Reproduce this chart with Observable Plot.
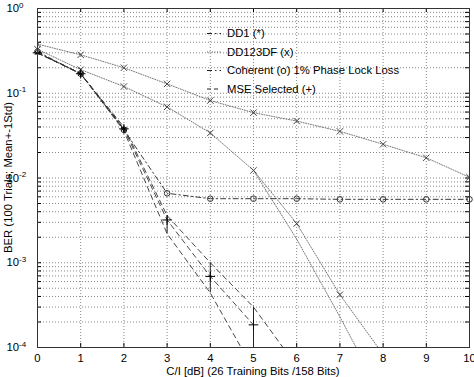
<!DOCTYPE html>
<html>
<head>
<meta charset="utf-8">
<script src="https://cdn.jsdelivr.net/npm/d3@7"></script>
<script src="https://cdn.jsdelivr.net/npm/@observablehq/plot@0.6"></script>
<style>
  html, body { margin: 0; padding: 0; background: #fff; }
  svg { font-family: "Liberation Sans", Arial, Helvetica, sans-serif; }
</style>
</head>
<body>
<div id="chart"></div>
<script>
// ---- data ----
const xTicks = [0, 1, 2, 3, 4, 5, 6, 7, 8, 9, 10];
const yDecades = [1e-4, 1e-3, 1e-2, 1e-1, 1];
const yMinorMult = [2, 3, 4, 5, 6, 7, 8, 9];

// DD1 (*) dash-dot
const dd1X = [0, 1, 2];
const dd1Y = [0.30, 0.17, 0.038];

// DD123DF (x) dotted, upper curve
const ddfUpX = [0, 1, 2, 3, 4, 5, 6, 7, 8, 9, 10];
const ddfUpY = [0.38, 0.284, 0.20, 0.129, 0.082, 0.059, 0.047, 0.0355, 0.025, 0.0173, 0.0102];
// DD123DF (x) dotted, lower curve
const ddfLoX = [0, 1, 2, 3, 4, 5, 6, 7, 8];
const ddfLoY = [0.33, 0.19, 0.12, 0.069, 0.034, 0.0123, 0.0029, 0.00042, 0.000083];
// DD123DF lower spread line
const ddfStdX = [5, 6, 7, 8];
const ddfStdY = [0.0123, 0.0019, 0.00023, 0.000025];

// Coherent (o) 1% Phase Lock Loss, dash-dot
const cohX = [0, 1, 2, 3, 4, 5, 6, 7, 8, 9, 10];
const cohY = [0.31, 0.17, 0.037, 0.0066, 0.0057, 0.0057, 0.0057, 0.0056, 0.0056, 0.0056, 0.0056];

// MSE Selected (+), dashed: mean, mean+std, mean-std
const mseX = [0, 1, 2, 3, 4, 5];
const mseMean = [0.30, 0.17, 0.038, 0.0032, 0.00069, 0.000185];
const mseUpX = [0, 1, 2, 3, 4, 5, 6];
const mseUp = [0.30, 0.17, 0.040, 0.0036, 0.0010, 0.00030, 0.00006];
const mseLoX = [0, 1, 2, 3, 4, 5];
const mseLo = [0.30, 0.17, 0.036, 0.0022, 0.00044, 0.000055];

const legendItems = ["DD1 (*)", "DD123DF (x)", "Coherent (o) 1% Phase Lock Loss", "MSE Selected (+)"];
const legendDash = ["5,3,1.5,3", "1,1.5", "5,3,1.5,3", "4,3"];

// ---- build tables ----
const zip = (xs, ys) => xs.map((x, i) => ({x, y: ys[i]}));
const dd1 = zip(dd1X, dd1Y);
const ddfUp = zip(ddfUpX, ddfUpY);
const ddfLo = zip(ddfLoX, ddfLoY);
const ddfStd = zip(ddfStdX, ddfStdY);
const coh = zip(cohX, cohY);
const mse = zip(mseX, mseMean);
const mseU = zip(mseUpX, mseUp);
const mseL = zip(mseLoX, mseLo);
const mseErr = [3, 4, 5].map(x => ({x, y1: mseLo[mseLoX.indexOf(x)], y2: mseUp[mseUpX.indexOf(x)]}));

const yGrid = yDecades.slice(0, -1).flatMap(d => yMinorMult.map(m => d * m)).concat(yDecades.slice(1, -1));
const yAllTicks = yDecades.slice(0, -1).flatMap(d => yMinorMult.map(m => d * m)).concat(yDecades);
const xGrid = xTicks.slice(1, -1);

const W = 474, H = 377, ML = 37, MR = 5, MT = 8, MB = 30;
const innerW = W - ML - MR, innerH = H - MT - MB;

const dashDot = "5,3,1.5,3";
const dashed = "5,4";
const dotted = "1,1.5";
const line = (data, dash, extra = {}) => Plot.line(data, {x: "x", y: "y", stroke: "#222", strokeWidth: 0.9, strokeDasharray: dash, clip: true, ...extra});

const chart = Plot.plot({
  width: W,
  height: H,
  marginLeft: ML,
  marginRight: MR,
  marginTop: MT,
  marginBottom: MB,
  style: {fontFamily: "Liberation Sans, Arial, sans-serif", fontSize: "11.3px", color: "black", background: "white"},
  x: {domain: [0, 10], label: null},
  y: {type: "log", domain: [1e-4, 1], label: null},
  marks: [
    // grid
    Plot.ruleY(yGrid, {y: d => d, stroke: "#888", strokeWidth: 1, strokeDasharray: "1,2"}),
    Plot.ruleX(xGrid, {x: d => d, stroke: "#888", strokeWidth: 1, strokeDasharray: "1,2"}),
    // inside ticks
    Plot.tickY(yAllTicks, {y: d => d, stroke: "black", insetRight: innerW - 4}),
    Plot.tickY(yAllTicks, {y: d => d, stroke: "black", insetLeft: innerW - 4}),
    Plot.tickX(xTicks, {x: d => d, stroke: "black", insetTop: innerH - 4}),
    Plot.tickX(xTicks, {x: d => d, stroke: "black", insetBottom: innerH - 4}),
    // series
    line(ddfUp, dotted, {stroke: "#666"}),
    line(ddfLo, dotted, {stroke: "#666"}),
    line(ddfStd, dotted, {stroke: "#666"}),
    line(coh, dashDot),
    line(dd1, dashDot),
    line(mse, dashed, {stroke: "#333"}),
    line(mseU, dashed, {stroke: "#333"}),
    line(mseL, dashed, {stroke: "#333"}),
    Plot.ruleX(mseErr, {x: "x", y1: "y1", y2: "y2", stroke: "#222", strokeWidth: 1, clip: true}),
    // markers
    Plot.dot(ddfUp, {x: "x", y: "y", symbol: "times", r: 3, stroke: "#444", strokeWidth: 1, clip: true}),
    Plot.dot(ddfLo.filter(d => d.y >= 1e-4), {x: "x", y: "y", symbol: "times", r: 3, stroke: "#444", strokeWidth: 1}),
    Plot.dot(coh, {x: "x", y: "y", symbol: "circle", r: 2.8, stroke: "#333", fill: "none", strokeWidth: 1}),
    Plot.dot(dd1, {x: "x", y: "y", symbol: "asterisk", r: 3, stroke: "black", strokeWidth: 1}),
    Plot.dot(mse, {x: "x", y: "y", symbol: "plus", r: 3.2, stroke: "black", strokeWidth: 1}),
    // frame and axes
    Plot.frame({stroke: "#333", strokeWidth: 1}),
    Plot.axisX(xTicks, {tickSize: 0, tickPadding: 6, tickFormat: d => String(d), fontSize: "11.3px"}),
    Plot.axisY(yDecades, {tickSize: 0, tickPadding: 13, tickFormat: d => String(Math.round(Math.log10(d))), fontSize: "11.3px"})
  ]
});

document.getElementById("chart").appendChild(chart);
const svg = d3.select(chart);

// y tick labels as 10 with superscript exponent
svg.selectAll("[aria-label='y-axis tick label'] text").each(function () {
  const t = d3.select(this);
  const exp = t.text();
  t.text("");
  t.attr("text-anchor", "start");
  t.append("tspan").attr("x", -18).text("10");
  t.append("tspan").attr("dy", "-0.55em").attr("font-size", "8px").text(exp === "-0" ? "0" : exp);
});

// axis titles
svg.append("text")
  .attr("x", ML + innerW / 2).attr("y", 375)
  .attr("text-anchor", "middle").attr("font-size", "11.3px").attr("fill", "black")
  .text("C/I [dB] (26 Training Bits /158 Bits)");
svg.append("text")
  .attr("transform", `translate(11.5,${MT + innerH / 2}) rotate(-90)`)
  .attr("text-anchor", "middle").attr("font-size", "11.3px").attr("fill", "black")
  .text("BER (100 Trials; Mean+-1Std)");

// legend (inside the axes, transparent, no box)
const lg = svg.append("g").attr("transform", "translate(207,33.5)").attr("text-anchor", "start");
legendItems.forEach((label, i) => {
  const g = lg.append("g").attr("transform", `translate(0,${i * 18.5})`);
  g.append("line").attr("x1", 0).attr("x2", 14).attr("y1", 0).attr("y2", 0)
    .attr("stroke", i === 1 ? "#555" : "#222").attr("stroke-dasharray", legendDash[i]);
  g.append("text").attr("x", 20).attr("y", 0).attr("dy", "0.35em").attr("text-anchor", "start")
    .attr("font-size", "11.3px").attr("fill", "black").text(label);
});
</script>
</body>
</html>
